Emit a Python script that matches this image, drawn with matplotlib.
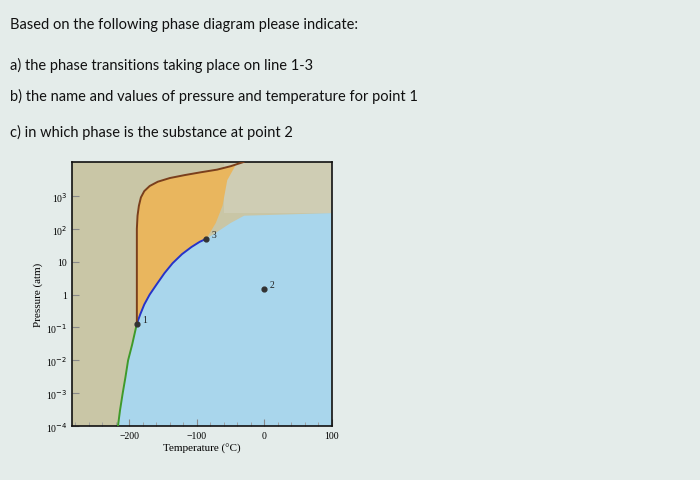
import matplotlib
matplotlib.use("Agg")
import matplotlib.pyplot as plt
from matplotlib.patches import Polygon
import numpy as np

question = ["Based on the following phase diagram please indicate:",
            "a) the phase transitions taking place on line 1-3",
            "b) the name and values of pressure and temperature for point 1",
            "c) in which phase is the substance at point 2"]
# solid-gas (green)
green_T = [-217, -214, -210, -206, -202, -196, -189]
green_P = [1e-4, 3e-4, 1e-3, 3e-3, 1e-2, 3e-2, 0.13]
# liquid-gas (blue)
blue_T = [-189, -184, -178, -170, -160, -148, -136, -122, -108, -96, -86]
blue_P = [0.13, 0.25, 0.5, 1.0, 2.0, 4.5, 9.0, 17.0, 28.0, 40.0, 50.0]
# solid-liquid (brown)
brown_T = [-189, -189, -189, -188, -186, -183, -178, -170, -158, -140, -118, -95, -70, -50, -31]
brown_P = [0.13, 10.0, 100.0, 250.0, 500.0, 900.0, 1400.0, 2000.0, 2700.0, 3500.0, 4300.0, 5200.0, 6300.0, 8000.0, 10700.0]
points_T = [-189, 0, -86]
points_P = [0.13, 1.5, 50.0]
points_lab = ["1", "2", "3"]
yticks = [1e-4, 1e-3, 1e-2, 1e-1, 1, 10, 1e2, 1e3]
ylabels = ["10$^{-4}$", "10$^{-3}$", "10$^{-2}$", "10$^{-1}$", "1", "10", "10$^2$", "10$^3$"]
xticks = [-200, -100, 0, 100]
xlabels = ["\u2212200", "\u2212100", "0", "100"]

fig = plt.figure(figsize=(7, 4.81), dpi=100)
fig.patch.set_facecolor("#e4ecea")
for t, y in zip(question, [0.94, 0.855, 0.79, 0.715]):
    fig.text(0.015, y, t, fontsize=10.5, family="Lato", color="#111")

ax = fig.add_axes([0.103, 0.112, 0.371, 0.549])
ax.set_yscale("log")
xmin, xmax, ymin, ymax = -285, 100, 1e-4, 1.07e4
ax.set_xlim(xmin, xmax); ax.set_ylim(ymin, ymax)
ax.set_facecolor("#c9c6a6")
ax.add_patch(Polygon([(-60, ymax), (xmax, ymax), (xmax, 300), (-60, 300)],
                     closed=True, fc="#cfcdb4", ec="none", zorder=0.5))
bpts = list(zip(green_T, green_P)) + list(zip(blue_T[1:], blue_P[1:])) + \
       [(-70, 80), (-50, 150), (-30, 250), (xmax, 300), (xmax, ymin)]
ax.add_patch(Polygon(bpts, closed=True, fc="#a9d6ec", ec="none", zorder=1))
opts = list(zip(brown_T, brown_P)) + [(-40, ymax), (-55, 3000), (-62, 500), (-72, 150)] + \
       list(zip(blue_T[::-1], blue_P[::-1]))
ax.add_patch(Polygon(opts, closed=True, fc="#e9b65e", ec="none", zorder=1))

ax.plot(green_T, green_P, color="#3f9a2a", lw=1.4, zorder=3)
ax.plot(blue_T, blue_P, color="#2633c9", lw=1.4, zorder=3)
ax.plot(brown_T, brown_P, color="#7a3f1c", lw=1.4, zorder=3)
ax.scatter(points_T, points_P, s=12, color="#333", zorder=4)
for t, p, l in zip(points_T, points_P, points_lab):
    ax.annotate(l, (t, p), xytext=(4, 1), textcoords="offset points",
                fontsize=7, family="Liberation Serif", color="#222")

ax.set_yticks(yticks); ax.set_yticklabels(ylabels)
ax.yaxis.set_minor_locator(matplotlib.ticker.NullLocator())
ax.set_xticks(xticks); ax.set_xticklabels(xlabels)
ax.set_xticks(np.arange(-280, 101, 20), minor=True)
ax.tick_params(direction="in", labelsize=7, length=5, color="#888")
ax.tick_params(which="minor", direction="in", length=3, color="#999")
for lb in ax.get_xticklabels() + ax.get_yticklabels():
    lb.set_family("Liberation Serif")
ax.set_xlabel("Temperature (\u00b0C)", fontsize=8, family="Liberation Serif", labelpad=2)
ax.set_ylabel("Pressure (atm)", fontsize=8, family="Liberation Serif", labelpad=2)
for s in ax.spines.values():
    s.set_color("#111"); s.set_linewidth(1.2)
fig.savefig("out.png", dpi=100, facecolor=fig.get_facecolor())
